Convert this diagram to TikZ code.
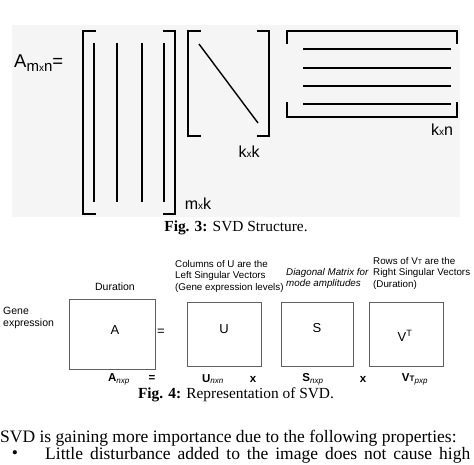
\documentclass[tikz,border=0pt]{standalone}
\usepackage{fontspec}
\setmainfont{Liberation Serif}
\newfontfamily\arial{Liberation Sans}
\newcommand{\smx}{{\fontsize{10}{10}\selectfont x}}
\begin{document}
\begin{tikzpicture}[x=1pt,y=-1pt,
  brk/.style={line width=1.6pt,black,line cap=rect},
  inl/.style={line width=1.4pt,black},
  dimlbl/.style={font=\arial\fontsize{16}{16}\selectfont,inner sep=0pt},
  figcap/.style={font=\fontsize{15.4}{15.4}\selectfont,inner sep=0pt},
  mbox/.style={draw=gray!75!black,line width=0.8pt},
  sl/.style={font=\arial\fontsize{10.5}{12}\selectfont,inner sep=0pt},
  note/.style={font=\arial\fontsize{9.8}{11.6}\selectfont,inner sep=0pt,align=left},
  big/.style={font=\arial\fontsize{13}{13}\selectfont,inner sep=0pt},
  bot/.style={font=\arial\bfseries\fontsize{11.5}{11.5}\selectfont,inner sep=0pt},
  txt/.style={font=\fontsize{17.5}{17.5}\selectfont,inner sep=0pt}]
\useasboundingbox (0,0) rectangle (474,464);
% Fig. 3
\fill[gray!8] (12,25) rectangle (460,217);
\node[inner sep=0pt,anchor=west,font=\arial\fontsize{18.5}{18.5}\selectfont] (amat) at (14,63)
  {A\raisebox{-4pt}{\fontsize{15}{15}\selectfont m{\fontsize{10}{10}\selectfont x}n}=};
% U
\draw[brk] (95,31) -- (83,31) -- (83,214) -- (95,214);
\draw[brk] (164,31) -- (175,31) -- (175,214) -- (164,214);
\foreach \xx in {94,117,142,164} \draw[inl] (\xx,43) -- (\xx,202);
\node[dimlbl] (mk) at (198,204) {m\smx k};
% S
\draw[brk] (200,31) -- (188,31) -- (188,136) -- (200,136);
\draw[brk] (258,31) -- (269,31) -- (269,136) -- (258,136);
\draw[inl] (199,44) -- (258,123);
\node[dimlbl] (kk) at (249,152) {k\smx k};
% VT
\draw[brk] (287,43) -- (287,31) -- (457,31) -- (457,43);
\draw[brk] (287,103) -- (287,117) -- (457,117) -- (457,103);
\foreach \yy in {49,68,86,104} \draw[inl] (303,\yy) -- (451,\yy);
\node[dimlbl] (kn) at (442,130) {k\smx n};
\node[figcap] (cap3) at (236,228) {\textbf{Fig. 3:} SVD Structure.};
% Fig. 4
\node[sl] (dur) at (115,287) {Duration};
\node[sl,anchor=west,align=left] (gene) at (3,318) {Gene\\expression};
\draw[mbox] (69,299) rectangle (155,369);
\draw[mbox] (187,302) rectangle (261,366);
\draw[mbox] (281,302) rectangle (353,366);
\draw[mbox] (369,302) rectangle (443,366);
\node[big] (a) at (115,330) {A};
\node[big] (eq) at (161,332) {=};
\node[big] (u) at (224,329) {U};
\node[big] (s) at (317,328) {S};
\node[big] (v) at (405,336) {V\textsuperscript{T}};
\node[note,anchor=north west] (un) at (175,260) {Columns of U are the\\Left Singular Vectors\\(Gene expression levels)};
\node[note,anchor=north west,font=\arial\itshape\fontsize{9.8}{11.6}\selectfont] (sn) at (286,268) {Diagonal Matrix for\\mode amplitudes};
\node[note,anchor=north west] (vn) at (373,257) {Rows of V{\fontsize{7}{7}\selectfont T} are the\\Right Singular Vectors\\(Duration)};
\node[bot] (ab) at (119,379) {A\textsubscript{\itshape\mdseries nxp}};
\node[bot] (eb) at (152,379) {=};
\node[bot] (ub) at (213,379) {U\textsubscript{\itshape\mdseries nxn}};
\node[bot] (x1) at (253,379) {x};
\node[bot] (sb) at (313,379) {S\textsubscript{\itshape\mdseries nxp}};
\node[bot] (x2) at (363,379) {x};
\node[bot] (vb) at (415,379) {V{\fontsize{8}{8}\selectfont T}\textsubscript{\itshape\mdseries pxp}};
\node[figcap] (cap4) at (236,395) {\textbf{Fig. 4:} Representation of SVD.};
% text
\node[txt,anchor=west] (p1) at (0,438) {SVD is gaining more importance due to the following properties:};
\node[txt] (bul) at (15,455) {\textbullet};
\node[txt,anchor=west] (p2) at (45,455) {\makebox[425pt][s]{Little disturbance added to the image does not cause high}};
\end{tikzpicture}
\end{document}
